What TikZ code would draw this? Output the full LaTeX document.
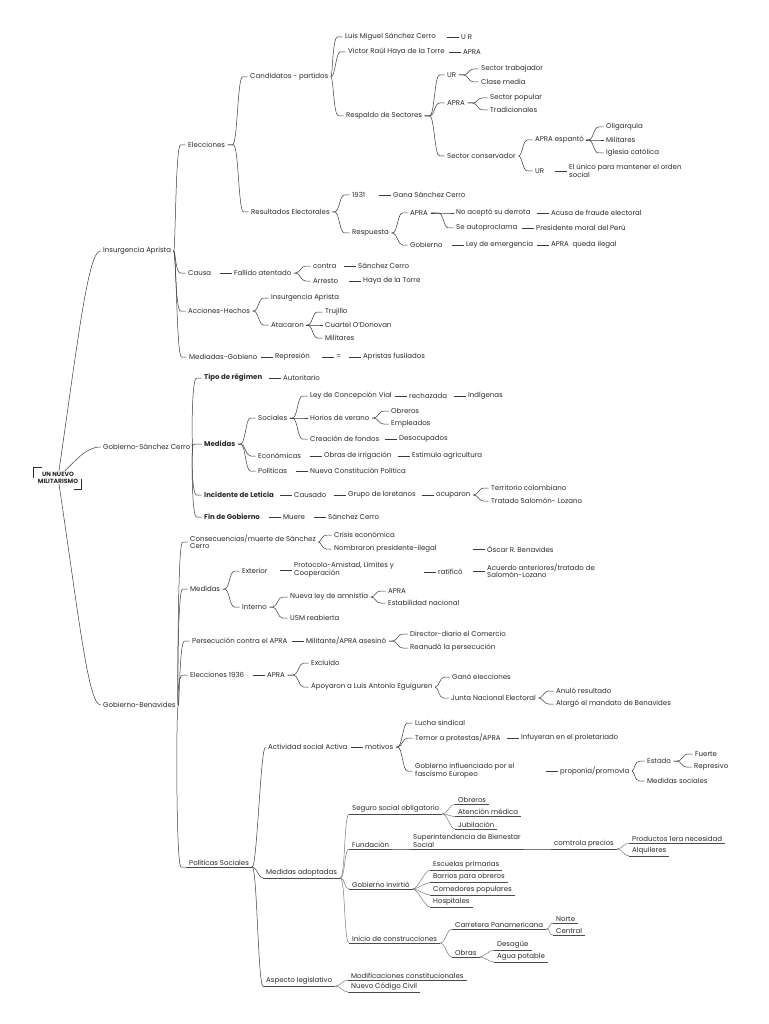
\documentclass[tikz,border=0pt]{standalone}
\usepackage{fontspec}
\setmainfont{Poppins}
\usetikzlibrary{calc,backgrounds}
\definecolor{tc}{HTML}{2A2A2A}
\definecolor{lc}{HTML}{3A3A3A}
\definecolor{lcu}{HTML}{7A7A7A}
\definecolor{ulc}{HTML}{4A4A4A}
\newcommand\fs{\fontsize{7}{7}\selectfont}
\begin{document}
\begin{tikzpicture}[x=1pt,y=-1pt,
  base/.style={font=\fs, text=tc, align=left},
  txt/.style={base, anchor=west, xshift=-2.5pt, inner xsep=2.5pt, inner ysep=1pt},
  bld/.style={txt, font=\fs\bfseries},
  ul/.style={base, anchor=south west, inner xsep=3pt, inner ysep=1.6pt,
    append after command={(\tikzlastnode.south west) edge[draw=ulc, line width=0.9pt] (\tikzlastnode.south east)}},
  ln/.style={draw=lc, line width=0.5pt},
  lnu/.style={draw=lcu, line width=0.5pt},
  br/.style={to path={let \p1=(\tikztostart), \p2=(\tikztotarget), \n1={max(\x1,\x2-15pt)} in
     -- (\n1,\y1) .. controls (\x2-10pt,\y1) and (\x2-10pt,\y2) .. (\x2-5pt,\y2) -- (\tikztotarget)}},
  ch/.style={to path={let \p1=(\tikztostart), \p2=(\tikztotarget), \n1={max(\x1+1pt,\x2-12pt)} in
     (\n1,\y2) -- (\tikztotarget)}},
  brU/.style={to path={let \p1=(\tikztostart), \p2=(\tikztotarget) in
     .. controls (\x1+5pt,\y1) and (\x2-5pt,\y2) .. (\tikztotarget)}}
]
\path[use as bounding box] (0,0) rectangle (768,1024);

% root
\node[font=\fontsize{6.1}{7}\selectfont\bfseries, text=tc, align=center, inner sep=1pt, fill=white] (root) at (58,477.5) {UN NUEVO\\MILITARISMO};
\draw[draw=tc, line width=0.9pt] ([xshift=-3pt,yshift=-7pt]root.north west) -- ([xshift=-3pt,yshift=3pt]root.north west) -- ([xshift=5pt,yshift=3pt]root.north west);
\draw[draw=tc, line width=0.9pt] ([xshift=2pt,yshift=5pt]root.south east) -- ([xshift=2pt,yshift=-5pt]root.south east) -- ([xshift=-5pt,yshift=-5pt]root.south east);

% level 1
\node[txt] (ia) at (103,251) {Insurgencia Aprista};
\node[txt] (gsc) at (103,447) {Gobierno-Sánchez Cerro};
\node[txt] (gb) at (103,705) {Gobierno-Benavides};

% Insurgencia Aprista
\node[txt] (elec) at (188,145) {Elecciones};
\node[txt] (cand) at (250,77) {Candidatos - partidos};
\node[txt] (lmsc) at (345,37) {Luis Miguel Sánchez Cerro};
\node[txt] (ur1) at (461,37) {U R};
\node[txt] (vrh) at (348,52) {Victor Raúl Haya de la Torre};
\node[txt] (apra1) at (463,52) {APRA};
\node[txt] (resp) at (346,116) {Respaldo de Sectores};
\node[txt] (ur2) at (447,75) {UR};
\node[txt] (strab) at (481,69) {Sector trabajador};
\node[txt] (cmed) at (481,82) {Clase media};
\node[txt] (apra2) at (447,103) {APRA};
\node[txt] (spop) at (490,98) {Sector popular};
\node[txt] (trad) at (490,110) {Tradicionales};
\node[txt] (scons) at (447,156) {Sector conservador};
\node[txt] (aesp) at (535,140) {APRA espantó};
\node[txt] (olig) at (606,127) {Oligarquía};
\node[txt] (milit1) at (606,140) {Militares};
\node[txt] (igl) at (606,153) {Iglesia católica};
\node[txt] (ur3) at (535,171) {UR};
\node[txt] (unico) at (569,171) {El único para mantener el orden\\social};
\node[txt] (resel) at (251,212) {Resultados Electorales};
\node[txt] (y1931) at (352,195) {1931};
\node[txt] (gana) at (393,195) {Gana Sánchez Cerro};
\node[txt] (rpta) at (352,233) {Respuesta};
\node[txt] (apra3) at (410,213) {APRA};
\node[txt] (noac) at (456,213) {No aceptó su derrota};
\node[txt] (acusa) at (551,213) {Acusa de fraude electoral};
\node[txt] (seauto) at (456,228) {Se autoproclama};
\node[txt] (pres) at (536,228) {Presidente moral del Perú};
\node[txt] (gob1) at (410,245) {Gobierno};
\node[txt] (leyem) at (466,245) {Ley de emergencia};
\node[txt] (ilegal) at (551,245) {APRA~ queda ilegal};
\node[txt] (causa) at (188,273) {Causa};
\node[txt] (fall) at (234,273) {Fallido atentado};
\node[txt] (contra) at (313,266) {contra};
\node[txt] (sc1) at (358,266) {Sánchez Cerro};
\node[txt] (arr) at (313,281) {Arresto};
\node[txt] (haya) at (363,281) {Haya de la Torre};
\node[txt] (acc) at (188,311) {Acciones-Hechos};
\node[txt] (ins2) at (271,298) {Insurgencia Aprista};
\node[txt] (atac) at (271,325) {Atacaron};
\node[txt] (truj) at (325,312) {Trujillo};
\node[txt] (cuart) at (325,325) {Cuartel O’Donovan};
\node[txt] (milit2) at (325,338) {Militares};
\node[txt] (medg) at (189,357) {Mediadas-Gobieno};
\node[txt] (repr) at (275,357) {Represión};
\node[txt] (eq) at (336,357) {=};
\node[txt] (fusil) at (363,357) {Apristas fusilados};

% Gobierno-Sanchez Cerro
\node[bld] (tipo) at (204,378) {Tipo de régimen};
\node[txt] (auto) at (283,378) {Autoritario};
\node[bld] (med1) at (204,444) {Medidas};
\node[txt] (soc) at (258,418) {Sociales};
\node[txt] (leycv) at (310,396) {Ley de Concepción Vial};
\node[txt] (rech) at (409,396) {rechazada};
\node[txt] (indig) at (468,396) {Indígenas};
\node[txt] (hor) at (310,418) {Horios de verano};
\node[txt] (obr1) at (391,411) {Obreros};
\node[txt] (empl) at (391,424) {Empleados};
\node[txt] (crea) at (310,439) {Creación de fondos};
\node[txt] (desoc) at (399,439) {Desocupados};
\node[txt] (econ) at (258,456) {Económicas};
\node[txt] (irrig) at (324,456) {Obras de irrigación};
\node[txt] (estim) at (412,456) {Estimulo agricultura};
\node[txt] (polit) at (258,471) {Políticas};
\node[txt] (ncons) at (310,471) {Nueva Constitución Política};
\node[bld] (letic) at (204,495) {Incidente de Leticia};
\node[txt] (caus) at (294,495) {Causado};
\node[txt] (lor) at (348,495) {Grupo de loretanos};
\node[txt] (ocup) at (436,495) {ocuparon};
\node[txt] (terr) at (491,488) {Territorio colombiano};
\node[txt] (trat) at (491,501) {Tratado Salomón- Lozano};
\node[bld] (fin) at (204,517) {Fin de Gobierno};
\node[txt] (muere) at (283,517) {Muere};
\node[txt] (sc2) at (328,517) {Sánchez Cerro};

% Gobierno-Benavides
\node[txt] (cons) at (190,542) {Consecuencias/muerte de Sánchez\\Cerro};
\node[txt] (crisis) at (334,535) {Crisis económica};
\node[txt] (nomb) at (334,549) {Nombraron presidente-ilegal};
\node[txt] (oscar) at (487,549) {Óscar R. Benavides};
\node[txt] (med2) at (190,589) {Medidas};
\node[txt] (ext) at (242,571) {Exterior};
\node[txt] (prot) at (294,570) {Protocolo-Amistad, Límites y\\Cooperación};
\node[txt] (ratif) at (438,572) {ratificó};
\node[txt] (acue) at (487,571) {Acuerdo anteriores/tratado de\\Salomón-Lozano};
\node[txt] (inte) at (242,607) {Interno};
\node[txt] (amn) at (290,597) {Nueva ley de amnistía};
\node[txt] (apra4) at (388,591) {APRA};
\node[txt] (estab) at (388,603) {Estabilidad nacional};
\node[txt] (usm) at (290,618) {USM reabierta};
\node[txt] (pers) at (192,641) {Persecución contra el APRA};
\node[txt] (milap) at (306,641) {Militante/APRA asesinó};
\node[txt] (dir) at (410,634) {Director-diario el Comercio};
\node[txt] (rean) at (410,648) {Reanudó la persecución};
\node[txt] (e36) at (190,675) {Elecciones 1936};
\node[txt] (apra5) at (267,675) {APRA};
\node[txt] (excl) at (311,663) {Excluido};
\node[txt] (apoy) at (311,687) {Apoyaron a Luis Antonio Eguiguren};
\node[txt] (gano) at (452,677) {Ganó elecciones};
\node[txt] (junta) at (451,698) {Junta Nacional Electoral};
\node[txt] (anulo) at (556,691) {Anuló resultado};
\node[txt] (alargo) at (556,704) {Alargó el mandato de Benavides};
\node[ul] (psoc) at (186,867) {Políticas Sociales};
\node[txt] (activ) at (268,747) {Actividad social Activa};
\node[txt] (motiv) at (365,747) {motivos};
\node[txt] (lucha) at (415,723) {Lucha sindical};
\node[txt] (temor) at (415,738) {Temor a protestas/APRA};
\node[txt] (infl) at (521,738) {Infuyeran en el proletariado};
\node[txt] (fasc) at (415,771) {Gobierno influenciado por el\\fascismo Europeo};
\node[txt] (prop) at (560,771) {proponía/promovía};
\node[txt] (estado) at (647,761) {Estado};
\node[txt] (fuerte) at (695,754) {Fuerte};
\node[txt] (repres) at (694,767) {Represivo};
\node[txt] (medsoc) at (647,781) {Medidas sociales};
\node[ul] (medad) at (263,878) {Medidas adoptadas};
\node[ul] (seguro) at (349,814) {Seguro social obligatorio};
\node[ul] (obr2) at (455,804) {Obreros};
\node[ul] (aten) at (455,816.5) {Atención médica};
\node[ul] (jub) at (455,829) {Jubilación};
\node[ul] (fund) at (349,849) {Fundación};
\node[ul] (super) at (410,849) {Superintendencia de Bienestar\\Social};
\node[ul] (ctrl) at (551,849) {comtrola precios};
\node[ul] (prod) at (629,843) {Productos 1era necesidad};
\node[ul] (alq) at (629,856) {Alquileres};
\node[ul] (ginv) at (349,889) {Gobierno invirtió};
\node[ul] (escu) at (430,870) {Escuelas primarias};
\node[ul] (barr) at (430,882.5) {Barrios para obreros};
\node[ul] (come) at (430,895) {Comedores populares};
\node[ul] (hosp) at (430,907) {Hospitales};
\node[ul] (inic) at (349,943) {Inicio de construcciones};
\node[ul] (carr) at (452,929) {Carretera Panamericana};
\node[ul] (norte) at (553,923) {Norte};
\node[ul] (centr) at (553,935) {Central};
\node[ul] (obras) at (452,957) {Obras};
\node[ul] (desag) at (494,950) {Desagüe};
\node[ul] (agua) at (494,962) {Agua potable};
\node[ul] (aspec) at (263,986) {Aspecto legislativo};
\node[ul] (modif) at (348,980) {Modificaciones constitucionales};
\node[ul] (nuevo) at (348,992) {Nuevo Código Civil};

% ---------- connectors: Insurgencia Aprista
\foreach \c in {elec,causa,acc,medg} \draw[ln] (ia.east) to[br] (\c.west);
\foreach \c in {cand,resel} \draw[ln] (elec.east) to[br] (\c.west);
\foreach \c in {lmsc,vrh,resp} \draw[ln] (cand.east) to[br] (\c.west);
\draw[ln] (lmsc.east) to[ch] (ur1.west);
\draw[ln] (vrh.east) to[ch] (apra1.west);
\foreach \c in {ur2,apra2,scons} \draw[ln] (resp.east) to[br] (\c.west);
\foreach \c in {strab,cmed} \draw[ln] (ur2.east) to[br] (\c.west);
\foreach \c in {spop,trad} \draw[ln] (apra2.east) to[br] (\c.west);
\foreach \c in {aesp,ur3} \draw[ln] (scons.east) to[br] (\c.west);
\foreach \c in {olig,milit1,igl} \draw[ln] (aesp.east) to[br] (\c.west);
\draw[ln] (ur3.east) to[ch] (unico.west);
\foreach \c in {y1931,rpta} \draw[ln] (resel.east) to[br] (\c.west);
\draw[ln] (y1931.east) to[ch] (gana.west);
\foreach \c in {apra3,gob1} \draw[ln] (rpta.east) to[br] (\c.west);
\foreach \c in {noac,seauto} \draw[ln] (apra3.east) to[br] (\c.west);
\draw[ln] (noac.east) to[ch] (acusa.west);
\draw[ln] (seauto.east) to[ch] (pres.west);
\draw[ln] (gob1.east) to[ch] (leyem.west);
\draw[ln] (leyem.east) to[ch] (ilegal.west);
\draw[ln] (causa.east) to[ch] (fall.west);
\foreach \c in {contra,arr} \draw[ln] (fall.east) to[br] (\c.west);
\draw[ln] (contra.east) to[ch] (sc1.west);
\draw[ln] (arr.east) to[ch] (haya.west);
\foreach \c in {ins2,atac} \draw[ln] (acc.east) to[br] (\c.west);
\foreach \c in {truj,cuart,milit2} \draw[ln] (atac.east) to[br] (\c.west);
\draw[ln] (medg.east) to[ch] (repr.west);
\draw[ln] (repr.east) to[ch] (eq.west);
\draw[ln] (eq.east) to[ch] (fusil.west);

% ---------- connectors: Gobierno-Sanchez Cerro
\foreach \c in {tipo,med1,letic,fin} \draw[ln] (gsc.east) to[br] (\c.west);
\draw[ln] (tipo.east) to[ch] (auto.west);
\foreach \c in {soc,econ,polit} \draw[ln] (med1.east) to[br] (\c.west);
\foreach \c in {leycv,hor,crea} \draw[ln] (soc.east) to[br] (\c.west);
\draw[ln] (leycv.east) to[ch] (rech.west);
\draw[ln] (rech.east) to[ch] (indig.west);
\foreach \c in {obr1,empl} \draw[ln] (hor.east) to[br] (\c.west);
\draw[ln] (crea.east) to[ch] (desoc.west);
\draw[ln] (econ.east) to[ch] (irrig.west);
\draw[ln] (irrig.east) to[ch] (estim.west);
\draw[ln] (polit.east) to[ch] (ncons.west);
\draw[ln] (letic.east) to[ch] (caus.west);
\draw[ln] (caus.east) to[ch] (lor.west);
\draw[ln] (lor.east) to[ch] (ocup.west);
\foreach \c in {terr,trat} \draw[ln] (ocup.east) to[br] (\c.west);
\draw[ln] (fin.east) to[ch] (muere.west);
\draw[ln] (muere.east) to[ch] (sc2.west);

% ---------- connectors: Gobierno-Benavides
\foreach \c in {cons,med2,pers,e36} \draw[ln] (gb.east) to[br] (\c.west);
\draw[ln] (gb.east) to[br] (psoc.south west);
\foreach \c in {crisis,nomb} \draw[ln] (cons.east) to[br] (\c.west);
\draw[ln] (nomb.east) to[ch] (oscar.west);
\foreach \c in {ext,inte} \draw[ln] (med2.east) to[br] (\c.west);
\draw[ln] (ext.east) to[ch] (prot.west);
\draw[ln] (prot.east) to[ch] (ratif.west);
\draw[ln] (ratif.east) to[ch] (acue.west);
\foreach \c in {amn,usm} \draw[ln] (inte.east) to[br] (\c.west);
\foreach \c in {apra4,estab} \draw[ln] (amn.east) to[br] (\c.west);
\draw[ln] (pers.east) to[ch] (milap.west);
\foreach \c in {dir,rean} \draw[ln] (milap.east) to[br] (\c.west);
\draw[ln] (e36.east) to[ch] (apra5.west);
\foreach \c in {excl,apoy} \draw[ln] (apra5.east) to[br] (\c.west);
\foreach \c in {gano,junta} \draw[ln] (apoy.east) to[br] (\c.west);
\foreach \c in {anulo,alargo} \draw[ln] (junta.east) to[br] (\c.west);

% Politicas sociales
\draw[ln] (psoc.south east) to[brU] (activ.west);
\foreach \c in {medad,aspec} \draw[ln] (psoc.south east) to[brU] (\c.south west);
\draw[ln] (activ.east) to[ch] (motiv.west);
\foreach \c in {lucha,temor,fasc} \draw[ln] (motiv.east) to[br] (\c.west);
\draw[ln] (temor.east) to[ch] (infl.west);
\draw[ln] (fasc.east) to[ch] (prop.west);
\foreach \c in {estado,medsoc} \draw[ln] (prop.east) to[br] (\c.west);
\foreach \c in {fuerte,repres} \draw[ln] (estado.east) to[br] (\c.west);
\foreach \c in {seguro,fund,ginv,inic} \draw[lnu] (medad.south east) to[brU] (\c.south west);
\foreach \c in {obr2,aten,jub} \draw[lnu] (seguro.south east) to[brU] (\c.south west);
\draw[lnu] (fund.south east) to[brU] (super.south west);
\draw[lnu] (super.south east) to[brU] (ctrl.south west);
\foreach \c in {prod,alq} \draw[lnu] (ctrl.south east) to[brU] (\c.south west);
\foreach \c in {escu,barr,come,hosp} \draw[lnu] (ginv.south east) to[brU] (\c.south west);
\foreach \c in {carr,obras} \draw[lnu] (inic.south east) to[brU] (\c.south west);
\foreach \c in {norte,centr} \draw[lnu] (carr.south east) to[brU] (\c.south west);
\foreach \c in {desag,agua} \draw[lnu] (obras.south east) to[brU] (\c.south west);
\foreach \c in {modif,nuevo} \draw[lnu] (aspec.south east) to[brU] (\c.south west);

% root connectors behind the root label
\begin{pgfonlayer}{background}
\fill[white] (0,0) rectangle (768,1024);
\draw[ln] (root.center) .. controls (78,340) and (88,251) .. (ia.west);
\draw[ln] (root.center) .. controls (75,462) and (85,447) .. (gsc.west);
\draw[ln] (root.center) .. controls (78,610) and (88,705) .. (gb.west);
\end{pgfonlayer}
\end{tikzpicture}
\end{document}
